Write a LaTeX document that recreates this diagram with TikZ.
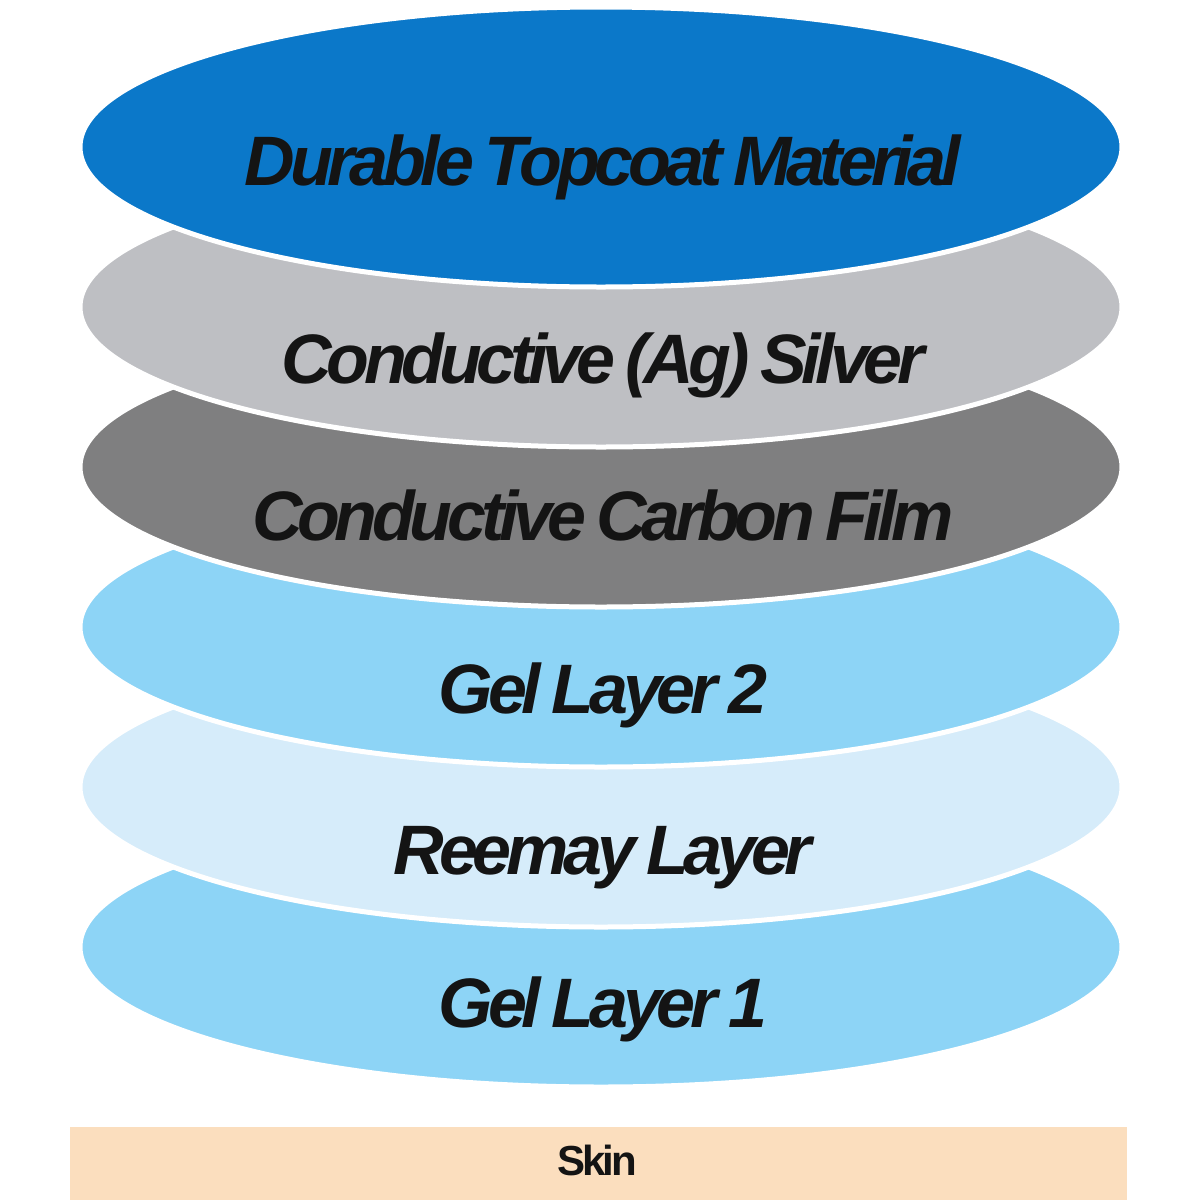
\documentclass[tikz,border=0pt]{standalone}
\usepackage{fontspec}
\setmainfont{Liberation Sans}
\definecolor{topcoat color}{HTML}{0B78C9}
\definecolor{silver color}{HTML}{BEBFC3}
\definecolor{carbon color}{HTML}{7F7F80}
\definecolor{gel color}{HTML}{8DD4F6}
\definecolor{reemay color}{HTML}{D6ECFA}
\definecolor{skin color}{HTML}{FBDEBE}
\colorlet{label color}{black!92}
\tikzset{
    x={1pt},
    y={-1pt},
    layer/.style={
        fill={#1},
        draw=white,
        line width={5pt},
    },
    layer label/.style={
        font={\fontsize{70}{80}\selectfont\bfseries\itshape\addfontfeature{LetterSpace=-7.5}\spaceskip=0.15em\relax},
        text=label color,
        anchor=base,
        inner sep=0pt,
    },
    skin layer/.style={
        fill=skin color,
    },
    skin label/.style={
        font={\fontsize{42}{50}\selectfont\bfseries\addfontfeature{LetterSpace=-7}},
        text=label color,
        anchor=base,
        inner sep=0pt,
    },
}

\begin{document}
\begin{tikzpicture}
% background
\useasboundingbox[fill=white] (0,0) rectangle (1200,1200);
\path[skin layer] (70,1127) rectangle (1127,1200);
% layers, from the skin upwards
\path[layer={gel color}] (601,947) ellipse [x radius=521, y radius=140];
\path[layer={reemay color}] (601,787) ellipse [x radius=521, y radius=140];
\path[layer={gel color}] (601,627) ellipse [x radius=521, y radius=140];
\path[layer={carbon color}] (601,467) ellipse [x radius=521, y radius=140];
\path[layer={silver color}] (601,307) ellipse [x radius=521, y radius=140];
\path[layer={topcoat color}] (601,147) ellipse [x radius=521, y radius=140];
% labels
\node[layer label] (topcoat) at (603,185) {Durable Topcoat Material};
\node[layer label] (silver) at (603,383) {Conductive (Ag) Silver};
\node[layer label] (carbon) at (603,540) {Conductive Carbon Film};
\node[layer label] (gel2) at (603,713) {Gel Layer 2};
\node[layer label] (reemay) at (603,874) {Reemay Layer};
\node[layer label] (gel1) at (603,1027) {Gel Layer 1};
\node[skin label] (skin) at (597,1175) {Skin};
\end{tikzpicture}
\end{document}
